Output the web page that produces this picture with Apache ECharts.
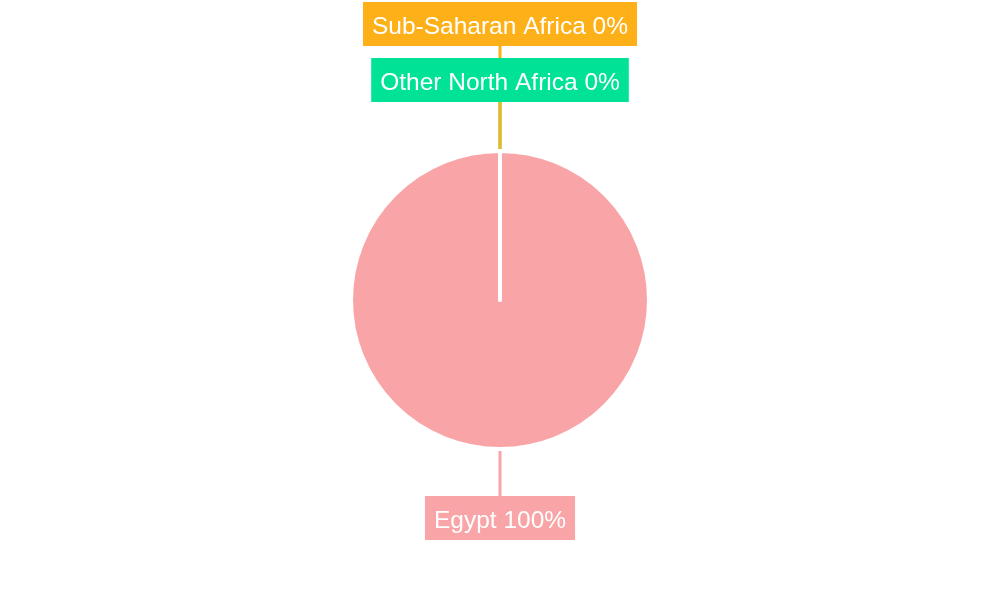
<!DOCTYPE html>
<html>
<head>
<meta charset="utf-8">
<script src="https://cdn.jsdelivr.net/npm/echarts@6/dist/echarts.min.js"></script>
<style>html,body{margin:0;padding:0;background:#fff}#c{width:1000px;height:600px}</style>
</head>
<body>
<div id="c"></div>
<script>
const categories = ['Egypt', 'Other North Africa', 'Sub-Saharan Africa'];
const values = [100, 0, 0];
const colors = ['#F9A5A7', '#00E396', '#FEB019'];

const chart = echarts.init(document.getElementById('c'));
const R = 149;
// label offsets from the pie centre (layout only)
const labelOffsets = [218, -220, -276];
const lineEnds = [196, -198, -254];

const data = categories.map((name, i) => ({
  name, value: values[i],
  itemStyle: { color: colors[i] },
  label: { backgroundColor: colors[i] },
  labelLine: { lineStyle: { color: colors[i] } }
}));

chart.setOption({
  animation: false,
  series: [{
    type: 'pie',
    center: ['50%', '50%'],
    radius: R,
    startAngle: 90,
    avoidLabelOverlap: false,
    minAngle: 0,
    itemStyle: { borderColor: '#ffffff', borderWidth: 4 },
    label: {
      show: true,
      position: 'outside',
      color: '#ffffff',
      fontFamily: 'Liberation Sans, Arial, sans-serif',
      fontSize: 24.5,
      padding: [12, 9, 12, 9],
      formatter: p => '{t|' + p.name + ' ' + Math.round(p.percent) + '%}',
      rich: {
        t: {
          color: '#ffffff',
          fontFamily: 'Liberation Sans, Arial, sans-serif',
          fontSize: 24.5,
          lineHeight: 20,
          padding: [6, 0, 0, 0]
        }
      }
    },
    labelLine: { show: true, length: 20, length2: 10, lineStyle: { width: 3 } },
    labelLayout: function (params) {
      const cx = chart.getWidth() / 2, cy = chart.getHeight() / 2;
      const i = params.dataIndex;
      const dir = labelOffsets[i] > 0 ? 1 : -1;
      const start = cy + dir * (R + 1);
      const end = cy + lineEnds[i];
      return {
        x: cx,
        y: cy + labelOffsets[i],
        align: 'center',
        verticalAlign: 'middle',
        labelLinePoints: [[cx, start], [cx, (start + end) / 2], [cx, end]]
      };
    },
    data: data
  }]
});
</script>
</body>
</html>
